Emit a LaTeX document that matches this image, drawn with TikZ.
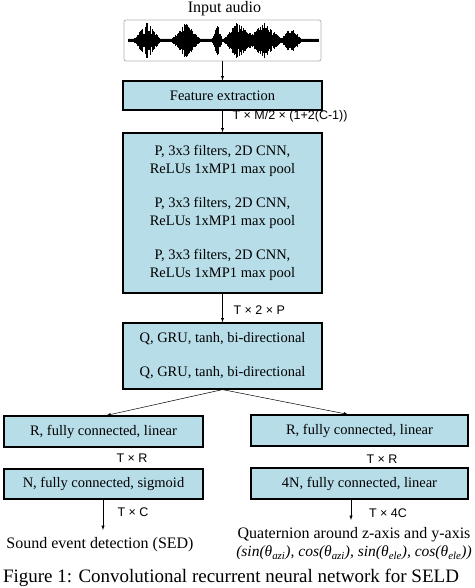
\documentclass[tikz,border=0pt]{standalone}
\usepackage{fontspec}
\setmainfont{Liberation Serif}
\setsansfont{Liberation Sans}
\usetikzlibrary{positioning}
\definecolor{cellblue}{HTML}{B7DDE8}
\begin{document}
\begin{tikzpicture}[x=1pt,y=-1pt]

\tikzset{
        every node/.style={font=\fontsize{14.5}{18}\selectfont},
        every path/.style={>=latex},
        block/.style={draw,line width=1.2pt,fill=cellblue,minimum width=199pt,align=center,inner sep=0pt},
        dims/.style={font=\sffamily\fontsize{12.5}{14}\selectfont},
        result/.style={font=\fontsize{16}{18}\selectfont,align=center},
        flow/.style={->,line width=0.5pt}
}

\useasboundingbox (0,0) rectangle (474,588);

\node[result,anchor=base] (input) at (224.5,13) {Input audio};
\node[draw=gray!60,line width=0.8pt,rounded corners=2pt,minimum width=197pt,minimum height=41pt] (wave) at (222.5,40.5) {};

% waveform
\pgfmathsetseed{17}
\foreach \x in {128,128.5,...,318} {
     \pgfmathsetmacro\env{17*max(0,1-abs(\x-147)/13)+16*max(0,1-abs(\x-186)/14)+15*max(0,1-abs(\x-217)/5)
          +18*max(0,1-abs(\x-238)/14)+17*max(0,1-abs(\x-264)/17)+12*max(0,1-abs(\x-291)/10)}
     \pgfmathsetmacro\amp{1.8+\env*(0.35+0.65*rnd)}
     \draw[line width=0.5pt] (\x,40.5-\amp) -- (\x,40.5+\amp);
}

\node[block,minimum height=29pt] (feat) at (222.5,95.5) {Feature extraction};
\node[block,minimum height=160pt] (cnn) at (222.5,213) {P, 3x3 filters, 2D CNN,\\ReLUs 1xMP1 max pool\\[16pt]P, 3x3 filters, 2D CNN,\\ReLUs 1xMP1 max pool\\[16pt]P, 3x3 filters, 2D CNN,\\ReLUs 1xMP1 max pool};
\node[block,minimum height=66pt] (gru) at (222.5,356) {Q, GRU, tanh, bi-directional\\[16pt]Q, GRU, tanh, bi-directional};

\node[block,minimum height=31pt] (fcL) at (103.5,431.5) {R, fully connected, linear};
\node[block,minimum height=30pt] (sed) at (103.5,484) {N, fully connected, sigmoid};
\node[block,minimum width=217pt,minimum height=31pt] (fcR) at (359.5,430.5) {R, fully connected, linear};
\node[block,minimum width=217pt,minimum height=31pt] (doa) at (359.5,483.5) {4N, fully connected, linear};

\node[dims,anchor=west] (dimF) at (229,116) {T × M/2 × (1+2(C-1))};
\node[dims,anchor=west] (dimC) at (230,310) {T × 2 × P};
\node[dims] (dimL) at (132,458) {T × R};
\node[dims] (dimR) at (382,459) {T × R};
\node[dims] (dimS) at (133,512) {T × C};
\node[dims] (dimD) at (388,513) {T × 4C};

\coordinate (sedtip) at (103,530);
\coordinate (doatip) at (351,520);

\node[result] (sedout) at (100,545) {Sound event detection (SED)};
\node[result] (doaout) at (354,544) {Quaternion around z-axis and y-axis\\\fontsize{15.5}{18}\selectfont\itshape (sin(θ\textsubscript{azi}), cos(θ\textsubscript{azi}), sin(θ\textsubscript{ele}), cos(θ\textsubscript{ele}))};

\draw[flow] (wave.south) -- (feat.north);
\draw[flow] (feat.south) -- (cnn.north);
\draw[flow] (cnn.south) -- (gru.north);
\draw[flow] (gru.south) -- ([xshift=3pt]fcL.north);
\draw[flow] (gru.south) -- ([xshift=-11.5pt]fcR.north);
\draw[flow] ([xshift=-0.5pt]sed.south) -- (sedtip);
\draw[flow] ([xshift=-8.5pt]doa.south) -- (doatip);

\node[font=\fontsize{19}{22}\selectfont,anchor=base] (caption) at (231,582) {Figure 1: Convolutional recurrent neural network for SELD};

\end{tikzpicture}
\end{document}
